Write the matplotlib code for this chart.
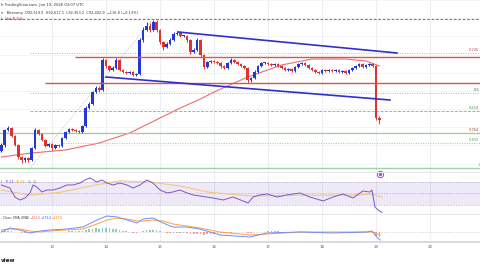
import numpy as np
import matplotlib
matplotlib.use("Agg")
import matplotlib.pyplot as plt

# ---------------- data ----------------
first_open = 90700
closes = [
    91025, 91850, 91960, 91520, 91025, 90365, 90200, 90310, 90200, 90860,
    91850, 91630, 91300, 90970, 91080, 90860, 91025, 90970, 91410, 91740,
    91905, 91850, 91795, 91740, 92070, 93060, 93280, 93940, 94160, 94050,
    95700, 95370, 95150, 95260, 95700, 95150, 95040, 94985, 95040, 94875,
    94930, 96800, 97350, 97570, 97350, 97790, 97350, 96690, 96415, 96580,
    96800, 97130, 97185, 97020, 97020, 96800, 96140, 96250, 96800, 95975,
    95315, 95590, 95645, 95590, 95535, 95370, 95260, 95535, 95700, 95590,
    95480, 95370, 95260, 94600, 94710, 95040, 95370, 95535, 95535, 95480,
    95425, 95480, 95370, 95260, 95150, 95205, 95095, 95315, 95480, 95535,
    95425, 95260, 95150, 95040, 94985, 95150, 95095, 95150, 95095, 95150,
    95040, 95095, 94985, 95150, 95260, 95370, 95480, 95315, 95425, 95480,
    95370, 92520, 92403]
wick_up = [
    100, 80, 120, 60, 50, 40, 60, 80, 50, 60,
    110, 60, 40, 50, 60, 40, 60, 50, 60, 50,
    80, 60, 40, 50, 60, 90, 120, 80, 100, 90,
    110, 80, 60, 90, 120, 60, 50, 40, 70, 40,
    60, 110, 180, 200, 150, 110, 120, 80, 60, 90,
    120, 110, 130, 90, 80, 70, 60, 90, 110, 60,
    50, 80, 60, 70, 60, 50, 60, 80, 90, 60,
    50, 60, 40, 60, 80, 90, 70, 80, 60, 50,
    60, 70, 50, 40, 50, 60, 50, 80, 60, 70,
    50, 40, 50, 40, 40, 60, 50, 40, 50, 60,
    40, 50, 40, 60, 70, 60, 80, 50, 60, 70,
    60, 60, 90]
wick_dn = [
    80, 90, 60, 80, 70, 120, 150, 90, 110, 60,
    80, 60, 50, 80, 60, 90, 50, 60, 50, 60,
    60, 50, 70, 60, 50, 60, 80, 70, 60, 90,
    80, 100, 70, 60, 50, 80, 60, 70, 60, 80,
    70, 60, 90, 80, 120, 60, 130, 110, 150, 80,
    60, 70, 60, 80, 70, 90, 120, 80, 60, 110,
    90, 70, 80, 60, 70, 90, 80, 60, 50, 60,
    70, 80, 60, 160, 90, 70, 60, 50, 60, 70,
    60, 50, 60, 70, 80, 60, 70, 50, 60, 50,
    60, 70, 60, 70, 80, 60, 50, 60, 70, 60,
    70, 60, 80, 60, 50, 60, 50, 70, 60, 50,
    60, 120, 200]

# moving average (sparse, candle index -> price)
ma_idx = [0, 9, 19, 29, 38, 44, 53, 59, 63, 73, 83, 92, 102, 108, 112]
ma_vals = [90365, 90585, 90750, 91135, 91685, 92235, 93060, 93555, 93940,
           94765, 95425, 95755, 95755, 95645, 95370]

# RSI (sparse)
rsi_idx = [0, 2.5, 4, 5.5, 7, 8.5, 9.4, 10.5, 12, 13.5, 15.3, 17.4, 19.4, 21.2,
           23.3, 24.8, 26.3, 28.3, 29.8, 31.3, 33.1, 35.1, 37.2, 39, 41.1, 43.1,
           44.9, 47, 49.1, 50.8, 52.9, 55, 56.8, 58.8, 62.7, 65.7, 68.6, 73.1,
           74.6, 76.6, 78.7, 81.7, 84.6, 88.5, 91.4, 95.3, 98.3, 101.2, 104.2,
           107.1, 109.2, 109.8, 110.7, 111.6, 112.8]
rsi_vals = [64.8, 59.6, 43.9, 38.7, 42.2, 50.9, 64.8, 61.3, 52.6, 56.1, 56.1,
            59.6, 64.8, 64.8, 68.3, 73.5, 77.0, 70.0, 73.5, 68.3, 64.8, 68.3,
            64.8, 59.6, 64.8, 73.5, 68.3, 56.1, 50.9, 52.6, 56.1, 50.9, 47.4,
            45.7, 42.2, 38.7, 43.9, 33.5, 43.9, 47.4, 49.1, 43.9, 47.4, 50.9,
            43.9, 37.0, 43.9, 49.1, 42.2, 54.3, 52.6, 56.1, 26.5, 21.3, 17.2]
rsi_ma_idx = [0, 8.5, 17.4, 26.3, 35.1, 44, 52.9, 61.8, 73.7, 88.5, 103.3, 109.8, 112.8]
rsi_ma_vals = [56, 47, 52, 63, 72, 70, 63, 52, 45.7, 47, 47, 49, 43.4]

# MACD (sparse)
macd_idx = [0, 2.5, 5.5, 8.5, 11.4, 14.4, 19.4, 24.2, 28.3, 31.3, 34.3, 37.2,
            40.2, 42, 44.9, 47.9, 50.8, 55, 58.8, 64.8, 73.7, 78.7, 88.5, 98.3,
            108.3, 109.8, 110.7, 112.2]
macd_vals = [0, 268, 134, -67, 67, 134, 201, 335, 804, 1072, 1005, 804, 603,
             871, 938, 603, 335, 335, 201, -201, -335, -67, 0, -67, 0, 67,
             -201, -539]
signal_vals = [134, 201, 201, 67, 0, 67, 134, 201, 536, 804, 938, 871, 737,
               737, 804, 737, 536, 402, 268, 0, -201, -134, 0, 0, 0, 0, -67,
               -218]
hist_vals = [
    60, 80, 90, 70, 30, -20,
    -60, -80, -70, -40,
    20, 30, 20, 10, 0, -10, -15, -10,
    10, 30, 50, 60, 60, 55, 70,
    130, 170, 220, 250, 230, 300, 280, 240, 200, 190,
    130, 80, 40, 0, -40, -70,
    10, 80, 120, 130, 150, 110,
    40, -20, -60, -80, -70, -60, -70, -80, -90, -130, -140, -120, -150, -170,
    -150, -130, -110, -100, -95, -80, -60, -40, -30, -25, -20, -20,
    -60, -50, -20, 0, 20, 30, 40, 45,
    40, 35, 25, 10, 0, -5, 5, 15, 20, 15,
    5, -5, -10, -15, -10, -10, -5, -5, 0, -5,
    -5, -10, -5, 5, 15, 25, 25, 30, 35, 30,
    -250, -320]

# drawn objects
trend_upper = [(15.333, 97240), (19.389, 96085)]
trend_lower = [(14.0, 94765), (19.259, 93500)]
red_levels = [95865, 94435]
red_starts = [13.426, 12.87]
green_levels = [91685, 89760]
fib_labels = ["0.236", "0.5", "0.618", "0.764", "0.832", "1"]
fib_prices = [96085, 93885, 92895, 91685, 91135, 89760]
fib_top = 97955
fib_diag = [(12.593, 89760), (14.852, 97900)]
day_ticks = [13, 14, 15, 16, 17, 18, 19, 20]

# ---------------- figure ----------------
W, H = 480, 270
fig = plt.figure(figsize=(4.8, 2.7), dpi=100)
fig.patch.set_facecolor("white")

def rect(t, b):
    return [0, 1 - b / H, 1, (b - t) / H]

ax = fig.add_axes(rect(0, 172))
ax_rsi = fig.add_axes(rect(172, 214), sharex=ax)
ax_macd = fig.add_axes(rect(214, 242), sharex=ax)

n = len(closes)
t0, step = 12.0625, 1 / 16
times = t0 + np.arange(n) * step
def idx2t(a):
    return t0 + np.asarray(a, dtype=float) * step

xlim = (13 - 52 / 54, 13 + 428 / 54)
for a in (ax, ax_rsi, ax_macd):
    a.set_xlim(*xlim)
    for s in a.spines.values():
        s.set_visible(False)
    a.tick_params(left=False, bottom=False, labelleft=False, labelbottom=False)
    for d in day_ticks:
        a.axvline(d, color="#eceef3", lw=0.7, zorder=0)

# main pane
ax.set_ylim(89540, 99000)
for p in range(90000, 99001, 1000):
    ax.axhline(p, color="#f1f2f6", lw=0.6, zorder=0)

opens = [first_open] + closes[:-1]
up_c, dn_c = "#2436d4", "#e2322f"
for i in range(n):
    o, c = opens[i], closes[i]
    col = up_c if c >= o else dn_c
    hi = max(o, c) + wick_up[i]
    lo = min(o, c) - wick_dn[i]
    ax.vlines(times[i], lo, hi, color=col, lw=0.7, zorder=3)
    h = max(abs(c - o), 40)
    ax.bar(times[i], h, bottom=min(o, c), width=0.05, color=col, lw=0, zorder=4)

ax.plot(idx2t(ma_idx), ma_vals, color="#ea6f6f", lw=0.8, zorder=2)

# fib
ax.axhline(fib_top, color="#e05a5a", lw=0.8, ls=(0, (2.5, 1.5)), zorder=2)
fib_styles = [("#e6a3a3", (0, (1, 1.5))), ("#aeb0b6", (0, (1, 1.5))),
              ("#86c686", (0, (3, 1.5))), (None, None),
              ("#e6a3a3", (0, (1, 1.5))), (None, None)]
fib_txt_cols = ["#b5524f", "#555555", "#4a9a4a", "#9a4a3a", "#6a9a6a", "#888888"]
fib_start = [12.593, 12.593, 12.593, 12.593, 13.2, 12.593]
for lab, p, (col, ls), tc, st in zip(fib_labels, fib_prices, fib_styles, fib_txt_cols, fib_start):
    if col is not None:
        ax.hlines(p, st, xlim[1], color=col, lw=0.7, linestyles=[ls], zorder=2)
    ax.text(xlim[1] - 0.01, p + 60, lab, fontsize=2.6, color=tc, ha="right",
            va="bottom", zorder=6)
(x1, y1), (x2, y2) = fib_diag
ax.plot([x1, x2], [y1, y2], color="#b8bcc6", lw=0.6, ls=(0, (1, 1.5)), zorder=2)

for p, st in zip(red_levels, red_starts):
    ax.hlines(p, st, xlim[1], color="#e05252", lw=1.0, zorder=5)
for p in green_levels:
    ax.axhline(p, color="#9fd09f", lw=1.0, zorder=2)

for (xa, ya), (xb, yb) in (trend_upper, trend_lower):
    ax.plot([xa, xb], [ya, yb], color="#3030c8", lw=1.2, zorder=6)

# RSI pane
ax_rsi.set_ylim(14.3, 87.4)
ax_rsi.axhspan(30, 70, color="#7e57c2", alpha=0.13, lw=0, zorder=0)
for lvl in (70, 50, 30):
    ax_rsi.axhline(lvl, color="#b0a8c0", lw=0.5, ls=(0, (2, 2)), zorder=1)
ax_rsi.plot(idx2t(rsi_ma_idx), rsi_ma_vals, color="#f5c77e", lw=0.8, zorder=2)
ax_rsi.plot(idx2t(rsi_idx), rsi_vals, color="#7e57c2", lw=0.7, zorder=3)
ax_rsi.plot([19.074], [83.9], marker="o", ms=4.5, mfc="white", mec="#9c4dcc",
            mew=0.7, zorder=5, clip_on=False)
ax_rsi.plot([19.074], [83.9], marker="o", ms=1.4, color="#9c4dcc", zorder=6, clip_on=False)

# MACD pane
ax_macd.set_ylim(-670, 1206)
ax_macd.axhline(0, color="#c9ccd4", lw=0.5, ls=(0, (2, 2)), zorder=1)
hcols = ["#26a69a" if v >= 0 else "#ef5350" for v in hist_vals]
ax_macd.bar(times, hist_vals, width=0.03, color=hcols, alpha=0.55, lw=0, zorder=2)
ax_macd.plot(idx2t(macd_idx), signal_vals, color="#ff9f45", lw=0.7, zorder=3)
ax_macd.plot(idx2t(macd_idx), macd_vals, color="#6f8ff0", lw=0.7, zorder=4)

# pane separators and time axis
for ypx, col, lw in ((172, "#e6e8ee", 0.8), (214, "#e6e8ee", 0.8), (242, "#d8dbe3", 1.4)):
    fig.add_artist(plt.Line2D([0, 1], [1 - ypx / H] * 2, color=col, lw=lw))
for d in day_ticks:
    xf = (52 + (d - 13) * 54) / W
    fig.text(xf, 1 - 247 / H, str(d), fontsize=2.8, color="#555a66",
             ha="center", va="center")

# header texts
def ftext(x, y, s, **kw):
    fig.text(x / W, 1 - y / H, s, va="center", ha="left", **kw)

ftext(1, 5, "h TradingView.com, Jan 19, 2026 03:07 UTC", fontsize=2.7, color="#333333")
ftext(1, 13, "n · Bitstamp  O92,519.5  H92,617.1  L92,353.2  C92,402.9  −116.8 (−0.13%)",
      fontsize=2.5, color="#333333")
ftext(1, 19, "l · Vol", fontsize=2.5, color="#333333")
ftext(12, 19, "41.62k", fontsize=2.5, color="#e2322f")

ftext(1, 182, ")", fontsize=2.4, color="#333333")
ftext(5, 182, "17.24", fontsize=2.4, color="#7e57c2")
ftext(16, 182, "43.38", fontsize=2.4, color="#e0a800")
ftext(28, 182, "∅  ∅", fontsize=2.4, color="#555555")

ftext(1, 218, ", Close, EMA, EMA)", fontsize=2.2, color="#333333")
ftext(30, 218, "−321.6", fontsize=2.2, color="#ef5350")
ftext(41, 218, "−539.4", fontsize=2.2, color="#2962ff")
ftext(52, 218, "−217.8", fontsize=2.2, color="#ff6d00")

ftext(0.5, 261, "view", fontsize=4.0, color="#131722", fontweight="bold")

fig.savefig("out.png", dpi=100, facecolor="white")
